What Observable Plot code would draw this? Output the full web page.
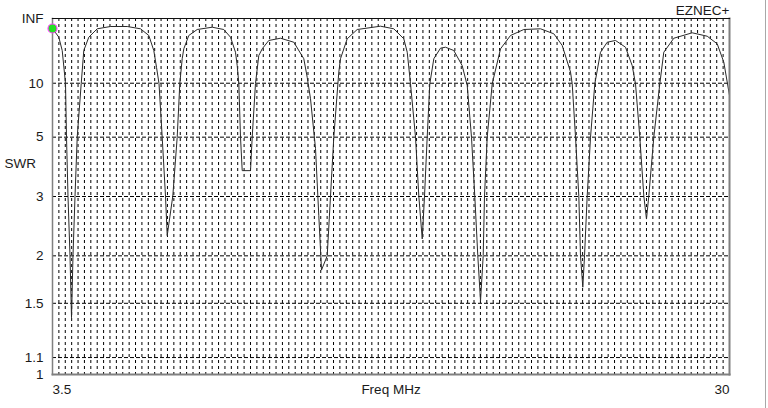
<!DOCTYPE html>
<html>
<head>
<meta charset="utf-8">
<script src="https://cdn.jsdelivr.net/npm/d3@7"></script>
<script src="https://cdn.jsdelivr.net/npm/@observablehq/plot@0.6"></script>
<style>
  html, body { margin: 0; padding: 0; background: #fff; }
  #wrap { position: relative; width: 768px; height: 408px; overflow: hidden; }
  #edge { position: absolute; left: 765px; top: 0; width: 1px; height: 408px; background: #a8a8a8; }
</style>
</head>
<body>
<div id="wrap"><div id="edge"></div></div>
<script>
// Frequency (MHz) and SWR
const freq = [3.500, 3.747, 3.880, 4.009, 4.048, 4.107, 4.185, 4.244, 4.302, 4.381, 4.467, 4.623, 4.725, 4.921, 5.250, 5.770, 6.424, 6.945, 7.270, 7.465, 7.571, 7.669, 7.794, 7.923, 7.990, 8.209, 8.381, 8.483, 8.577, 8.640, 8.835, 9.164, 9.751, 10.205, 10.468, 10.663, 10.730, 10.793, 10.859, 10.926, 11.251, 11.317, 11.446, 11.575, 11.709, 11.967, 12.425, 12.945, 13.337, 13.470, 13.599, 13.795, 13.924, 14.030, 14.253, 14.382, 14.511, 14.707, 14.773, 15.036, 15.427, 16.339, 16.860, 17.251, 17.385, 17.514, 17.709, 17.839, 17.972, 18.062, 18.167, 18.269, 18.426, 18.688, 18.883, 19.208, 19.537, 19.733, 19.901, 20.030, 20.148, 20.254, 20.359, 20.410, 20.516, 20.712, 21.037, 21.428, 21.949, 22.603, 23.124, 23.452, 23.777, 23.843, 23.973, 24.102, 24.168, 24.258, 24.325, 24.430, 24.560, 24.728, 24.951, 25.213, 25.538, 25.929, 26.192, 26.321, 26.489, 26.646, 26.751, 26.841, 27.037, 27.272, 27.428, 27.820, 28.540, 29.127, 29.519, 29.777, 30.000];
const swr = [70.2, 37.1, 21.25, 9.95, 5.00, 3.00, 2.00, 1.38, 2.00, 3.00, 5.00, 9.90, 21.25, 37.1, 68.1, 88, 88, 68.1, 40.9, 21.25, 13.6, 9.95, 5.00, 3.01, 2.28, 3.01, 5.00, 9.95, 16.7, 22.5, 40.9, 63.7, 80.8, 63.7, 37.1, 20.1, 14.1, 9.95, 5.00, 3.68, 3.68, 5.00, 9.95, 18.2, 22.5, 31.4, 35.1, 29.0, 16.7, 11.1, 7.87, 4.48, 2.61, 1.83, 2.00, 3.01, 5.00, 12.3, 16.7, 34.1, 63.7, 91.5, 68.1, 34.1, 20.1, 9.90, 5.00, 3.01, 2.23, 3.01, 5.00, 9.90, 16.7, 23.0, 23.8, 21.25, 14.1, 9.63, 5.00, 3.01, 2.00, 1.52, 2.00, 3.01, 5.00, 9.90, 22.5, 40.9, 63.7, 68.1, 45.5, 25.4, 12.3, 9.90, 5.00, 3.01, 2.00, 1.65, 2.00, 3.01, 5.00, 9.90, 20.1, 29.0, 31.4, 23.8, 14.1, 9.90, 5.00, 3.01, 2.55, 3.01, 5.00, 9.90, 20.1, 35.1, 48.8, 39.2, 27.1, 15.3, 8.25];

const swrTicks = [1, 1.1, 1.5, 2, 3, 5, 10, Infinity];
const swrTickLabels = ["1", "1.1", "1.5", "2", "3", "5", "10", "INF"];
const swrGrid = [1.1, 1.5, 2, 3, 5, 10];
const freqTicks = [3.5, 30];
const freqTickLabels = ["3.5", "30"];
const freqGridStep = 0.25;

// SWR axis is linear in reflection coefficient
const rho = s => (s === Infinity ? 1 : (s - 1) / (s + 1));

const data = freq.map((f, i) => ({f, s: swr[i]}));
const vGrid = d3.range(freq[0] + freqGridStep, freq[freq.length - 1] - 1e-9, freqGridStep);

const font = "'Liberation Sans', Arial, Helvetica, sans-serif";

const chart = Plot.plot({
  width: 768,
  height: 408,
  marginLeft: 52,
  marginRight: 39,
  marginTop: 18,
  marginBottom: 34,
  style: {fontFamily: font, fontSize: "13.5px", color: "#1a1a1a", background: "transparent", overflow: "visible"},
  x: {domain: [freqTicks[0], freqTicks[1]]},
  y: {domain: [0, 1]},
  marks: [
    Plot.ruleX(vGrid, {stroke: "#000", strokeWidth: 1, strokeDasharray: "3,3"}),
    Plot.ruleY(swrGrid.map(rho), {stroke: "#000", strokeWidth: 1, strokeDasharray: "4,2"}),
    Plot.axisY(swrTicks.map(rho), {
      tickSize: 0, tickPadding: 9, label: null,
      tickFormat: (d, i) => swrTickLabels[i]
    }),
    Plot.axisX([freqTicks[0]], {tickSize: 0, tickPadding: 10, label: null, textAnchor: "start", tickFormat: () => freqTickLabels[0]}),
    Plot.axisX([freqTicks[1]], {tickSize: 0, tickPadding: 10, label: null, textAnchor: "end", tickFormat: () => freqTickLabels[1]}),
    Plot.text(["Freq MHz"], {frameAnchor: "bottom", dy: 15, lineAnchor: "middle", fill: "#1a1a1a"}),
    Plot.text(["SWR"], {frameAnchor: "left", dx: -48, dy: -33, textAnchor: "start", lineAnchor: "middle", fill: "#1a1a1a"}),
    Plot.text(["EZNEC+"], {frameAnchor: "top-right", dy: -4, textAnchor: "end", lineAnchor: "bottom", fill: "#1a1a1a"}),
    Plot.line(data, {x: "f", y: d => rho(d.s), stroke: "#2a2a2a", strokeWidth: 1}),
    Plot.frame({anchor: "left", stroke: "#808080", strokeWidth: 1.5}),
    Plot.frame({anchor: "bottom", stroke: "#808080", strokeWidth: 2}),
    Plot.frame({anchor: "right", stroke: "#808080", strokeWidth: 2}),
    Plot.frame({anchor: "top", stroke: "#111", strokeWidth: 1.2}),
    Plot.dot([data[0]], {x: "f", y: d => rho(d.s), r: 4.5, fill: "#22e022", stroke: "#ff40ff", strokeWidth: 1.2})
  ]
});
document.getElementById("wrap").appendChild(chart);
chart.style.position = "absolute";
chart.style.left = "0";
chart.style.top = "0";
</script>
</body>
</html>
